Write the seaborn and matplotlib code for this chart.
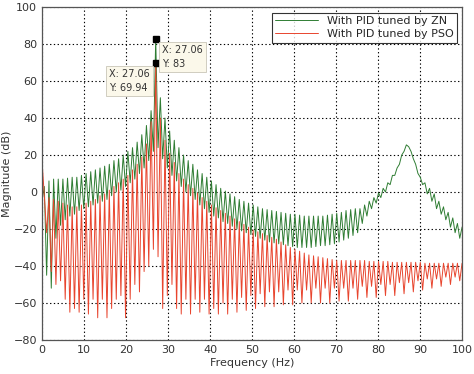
import numpy as np
import pandas as pd
import matplotlib
matplotlib.use("Agg")
import matplotlib.pyplot as plt
import seaborn as sns

# spacing of the ripple in the spectrum (Hz per full cycle)
freq_step = 1.1045

# values at k*step ("lo") and (k+0.5)*step ("hi"), k = 0..90
green_lo = [-5, -45, -52, -25, -18, -15, -13, -12, -10, -9,
            -8, -7, -6, -5, -4, -2, 0, 1, 3, 5,
            7, 10, 13, 17, 22, 24, 18, 13, 9, 6,
            3, 0, -2, -4, -7, -9, -11, -13, -14, -16,
            -17, -18.5, -20, -21, -22, -23, -24, -25, -26, -27,
            -27.5, -28, -28.5, -29, -29.5, -30, -30, -30, -30, -29.5,
            -29, -29, -28.5, -28, -27, -26, -25, -23.5, -22, -17,
            -13, -9, -6, -3, 0, 4, 9, 15, 22, 24.5,
            18, 10, 4, -1, -5, -9, -12, -15, -19, -22,
            -25]
green_hi = [3, 6, 7, 7, 7, 7.5, 8, 8, 9, 10,
            11, 12, 13, 14, 15, 17, 18, 20, 22, 24,
            27, 31, 36, 44, 83, 51, 40, 33, 28, 24,
            20, 17, 15, 12, 10, 8, 6, 4, 2, 0.5,
            -1, -2.5, -4, -5, -6, -7, -8, -9, -9.5, -10,
            -10.5, -11, -11.5, -12, -12, -12.5, -13, -13, -13, -13,
            -13, -12.5, -12, -11.5, -11, -10, -9.5, -9, -9, -7,
            -5, -3, -0.5, 2, 5, 9, 13, 20, 25.5, 22,
            15, 8, 5, 2, -1, -5, -8, -11, -14, -17,
            -19]
red_lo = [17, -22, -43, -50, -48, -58, -65, -63, -65, -58,
          -66, -58, -68, -58, -68, -63, -58, -56, -68, -58,
          -50, -54, -43, -40, -31, -35, -63, -56, -50, -63,
          -66, -58, -66, -58, -65, -58, -66, -63, -66, -60,
          -66, -58, -65, -57, -64, -56, -63, -55, -62, -54,
          -62, -54, -61, -53, -61, -53, -60, -53, -60, -52,
          -60, -52, -60, -52, -59, -52, -59, -52, -58, -51,
          -57, -51, -57, -50, -56, -50, -56, -49, -55, -49,
          -54, -48, -53, -47, -52, -47, -51, -46, -50, -46,
          -48]
red_hi = [-2, -3, -4, -5, -6, -7, -8, -8, -7, -6,
          -5, -4, -2, -1, 1, 3, 5, 7, 9, 12,
          15, 19, 26, 38, 69.94, 40, 28, 21, 16, 10,
          7, 4, 2, -0.5, -3, -5, -7, -8.5, -10, -11.5,
          -13, -14.5, -16, -17.5, -19, -20.5, -21.5, -22.5, -23.5, -24.5,
          -25.5, -27, -28.5, -30, -31, -32, -33, -34, -34.5, -35,
          -35.5, -36, -36.5, -37, -37, -37, -37, -37, -37, -37,
          -37.5, -37.5, -37.5, -37.5, -37.5, -38, -38, -38, -38, -38,
          -38, -38, -38.5, -38.5, -38.5, -38.5, -38.5, -38.5, -38.5, -38.5,
          -38.5]

peak_freq = 27.06
peak_zn = 83
peak_pso = 69.94


def zigzag(lo, hi):
    k = np.arange(len(lo))
    f = np.column_stack([k * freq_step, (k + 0.5) * freq_step]).ravel()
    v = np.column_stack([lo, hi]).ravel()
    return pd.DataFrame({"Frequency": f, "Magnitude": v})


green_df = zigzag(green_lo, green_hi)
red_df = zigzag(red_lo, red_hi)

sns.set_style("white")
plt.rcParams["font.family"] = ["DejaVu Sans"]

fig = plt.figure(figsize=(4.74, 3.74), dpi=100)
ax = fig.add_axes([0.0886, 0.091, 0.8866, 0.890])

sns.lineplot(data=green_df, x="Frequency", y="Magnitude", ax=ax, color="#2f7d33",
             lw=0.7, estimator=None, sort=False, label="With PID tuned by ZN")
sns.lineplot(data=red_df, x="Frequency", y="Magnitude", ax=ax, color="#e8452e",
             lw=0.7, estimator=None, sort=False, label="With PID tuned by PSO")

# data tips
ax.plot([peak_freq, peak_freq], [peak_zn, peak_pso], "s", color="black", ms=5, zorder=5)
tip_box = dict(boxstyle="square,pad=0.35", fc="#fbf8ea", ec="#c9c6b8", lw=0.6)
ax.text(28.6, 79.5, f"X: {peak_freq}\nY: {peak_zn}", fontsize=7, va="top", ha="left",
        color="#333333", bbox=tip_box, zorder=6, linespacing=1.5)
ax.text(16.0, 66.5, f"X: {peak_freq}\nY: {peak_pso}", fontsize=7, va="top", ha="left",
        color="#333333", bbox=tip_box, zorder=6, linespacing=1.5)

ax.set_xlim(0, 100)
ax.set_ylim(-80, 100)
ax.set_xticks(range(0, 101, 10))
ax.set_yticks(range(-80, 101, 20))
ax.grid(True, color="black", linestyle=(0, (1.2, 2.2)), lw=0.8)
ax.tick_params(direction="in", length=3, labelsize=8, colors="#333333")
for s in ax.spines.values():
    s.set_color("#555555")
    s.set_linewidth(0.9)
ax.set_xlabel("Frequency (Hz)", fontsize=8, color="#333333", labelpad=2)
ax.set_ylabel("Magnitude (dB)", fontsize=8, color="#333333", labelpad=1)

leg = ax.legend(loc="upper right", fontsize=8, frameon=True, fancybox=False,
                handlelength=3.8, borderaxespad=0.5, borderpad=0.3, labelspacing=0.3)
leg.get_frame().set_edgecolor("black")
leg.get_frame().set_linewidth(0.8)

fig.savefig("out.png", dpi=100)
